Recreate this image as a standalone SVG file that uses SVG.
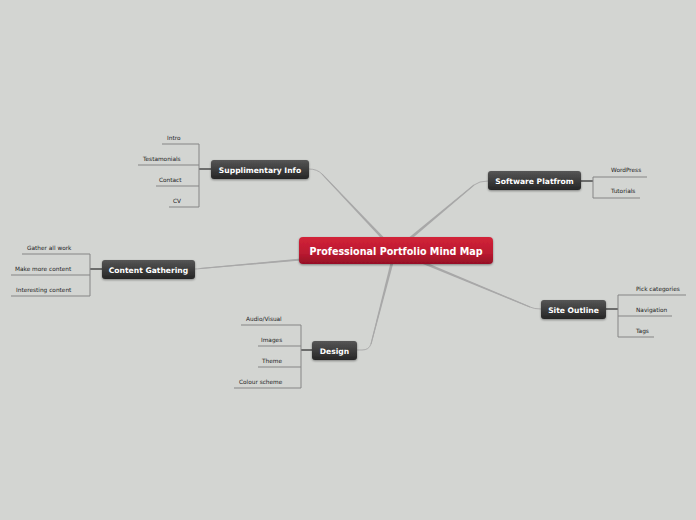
<svg xmlns="http://www.w3.org/2000/svg" width="696" height="520" viewBox="0 0 696 520">
<defs>
<linearGradient id="gDark" x1="0" y1="0" x2="0" y2="1">
<stop offset="0" stop-color="#555555"/>
<stop offset="1" stop-color="#262626"/>
</linearGradient>
<linearGradient id="gRed" x1="0" y1="0" x2="0" y2="1">
<stop offset="0" stop-color="#d22338"/>
<stop offset="0.6" stop-color="#bb1a30"/>
<stop offset="1" stop-color="#951026"/>
</linearGradient>
<filter id="sh" x="-20%" y="-30%" width="140%" height="170%">
<feGaussianBlur in="SourceAlpha" stdDeviation="1"/>
<feOffset dx="0" dy="1" result="b"/>
<feComponentTransfer><feFuncA type="linear" slope="0.4"/></feComponentTransfer>
<feMerge><feMergeNode/><feMergeNode in="SourceGraphic"/></feMerge>
</filter>
</defs>
<style>
.conn{fill:none;stroke:#ababab;stroke-width:1}
.wedge{fill:#a8a8a8}
.stub{stroke:#4a4a4a;stroke-width:1.5;fill:none}
.br{stroke:#858585;stroke-width:1;fill:none}
.node{fill:url(#gDark);filter:url(#sh)}
.main{fill:url(#gRed);filter:url(#sh)}
.nt{font-family:"DejaVu Sans",sans-serif;font-weight:bold;font-size:7.6px;fill:#ffffff;text-anchor:middle}
.mt{font-family:"DejaVu Sans",sans-serif;font-weight:bold;font-size:9.6px;fill:#ffffff;text-anchor:middle}
.st{font-family:"DejaVu Sans",sans-serif;font-size:5.8px;fill:#222222}
</style>
<rect width="696" height="520" fill="#d3d5d2"/>
<g id="connectors">
<path class="conn" d="M395,251 L322,174 Q317,169 309,169"/>
<polygon class="wedge" points="396.1,250 322.4,173.7 321.6,174.3 393.9,252"/>
<path class="conn" d="M395,251 L474,185 Q479,181 488,181"/>
<polygon class="wedge" points="396,252.2 474.3,185.4 473.7,184.6 394,249.8"/>
<path class="conn" d="M395,251 L200,268.6 Q197,269 195,269"/>
<polygon class="wedge" points="395.1,252.5 200.05,269.1 199.95,268.1 394.9,249.5"/>
<path class="conn" d="M395,251 L530,307 Q534,309 541,309"/>
<polygon class="wedge" points="394.4,252.4 529.8,307.5 530.2,306.5 395.6,249.6"/>
<path class="conn" d="M395,251 L371,344 Q369,350 362,350 L357,350"/>
<polygon class="wedge" points="396.5,251.4 371.5,344.1 370.5,343.9 393.5,250.6"/>
</g>
<g id="central">
<rect class="main" x="299" y="237" width="194" height="27" rx="4"/>
<text class="mt" x="396" y="254.5">Professional Portfolio Mind Map</text>
</g>
<g id="supplimentary">
<line class="stub" x1="199" y1="169" x2="211" y2="169"/>
<path class="br" d="M199,144 V207 M162,144 H199 M138,165 H199 M156,186 H199 M169,207 H199"/>
<text class="st" x="167" y="140">Intro</text>
<text class="st" x="143" y="161">Testamonials</text>
<text class="st" x="159" y="182">Contact</text>
<text class="st" x="173" y="203">CV</text>
<rect class="node" x="211" y="160" width="98" height="19" rx="3"/>
<text class="nt" x="260" y="172.5">Supplimentary Info</text>
</g>
<g id="content">
<line class="stub" x1="90" y1="269" x2="102" y2="269"/>
<path class="br" d="M90,254 V296 M22,254 H90 M11,275 H90 M11,296 H90"/>
<text class="st" x="27" y="250">Gather all work</text>
<text class="st" x="15" y="271">Make more content</text>
<text class="st" x="16" y="292">Interesting content</text>
<rect class="node" x="102" y="260" width="93" height="19" rx="3"/>
<text class="nt" x="148.5" y="272.5">Content Gathering</text>
</g>
<g id="software">
<line class="stub" x1="581" y1="181" x2="593" y2="181"/>
<path class="br" d="M593,177 V198 M593,177 H647 M593,198 H640"/>
<text class="st" x="611" y="172">WordPress</text>
<text class="st" x="611" y="193">Tutorials</text>
<rect class="node" x="488" y="171" width="93" height="19" rx="3"/>
<text class="nt" x="534.5" y="183.5">Software Platfrom</text>
</g>
<g id="site">
<line class="stub" x1="606" y1="309" x2="618" y2="309"/>
<path class="br" d="M618,295 V337 M618,295 H686 M618,316 H672 M618,337 H654"/>
<text class="st" x="636" y="291">Pick categories</text>
<text class="st" x="636" y="312">Navigation</text>
<text class="st" x="636" y="333">Tags</text>
<rect class="node" x="541" y="300" width="65" height="19" rx="3"/>
<text class="nt" x="573.5" y="312.5">Site Outline</text>
</g>
<g id="design">
<line class="stub" x1="301" y1="350" x2="312" y2="350"/>
<path class="br" d="M301,325 V388 M241,325 H301 M258,346 H301 M258,367 H301 M234,388 H301"/>
<text class="st" x="246" y="321">Audio/Visual</text>
<text class="st" x="261" y="342">Images</text>
<text class="st" x="262" y="363">Theme</text>
<text class="st" x="239" y="384">Colour scheme</text>
<rect class="node" x="312" y="341" width="45" height="19" rx="3"/>
<text class="nt" x="334.5" y="353.5">Design</text>
</g>
</svg>
